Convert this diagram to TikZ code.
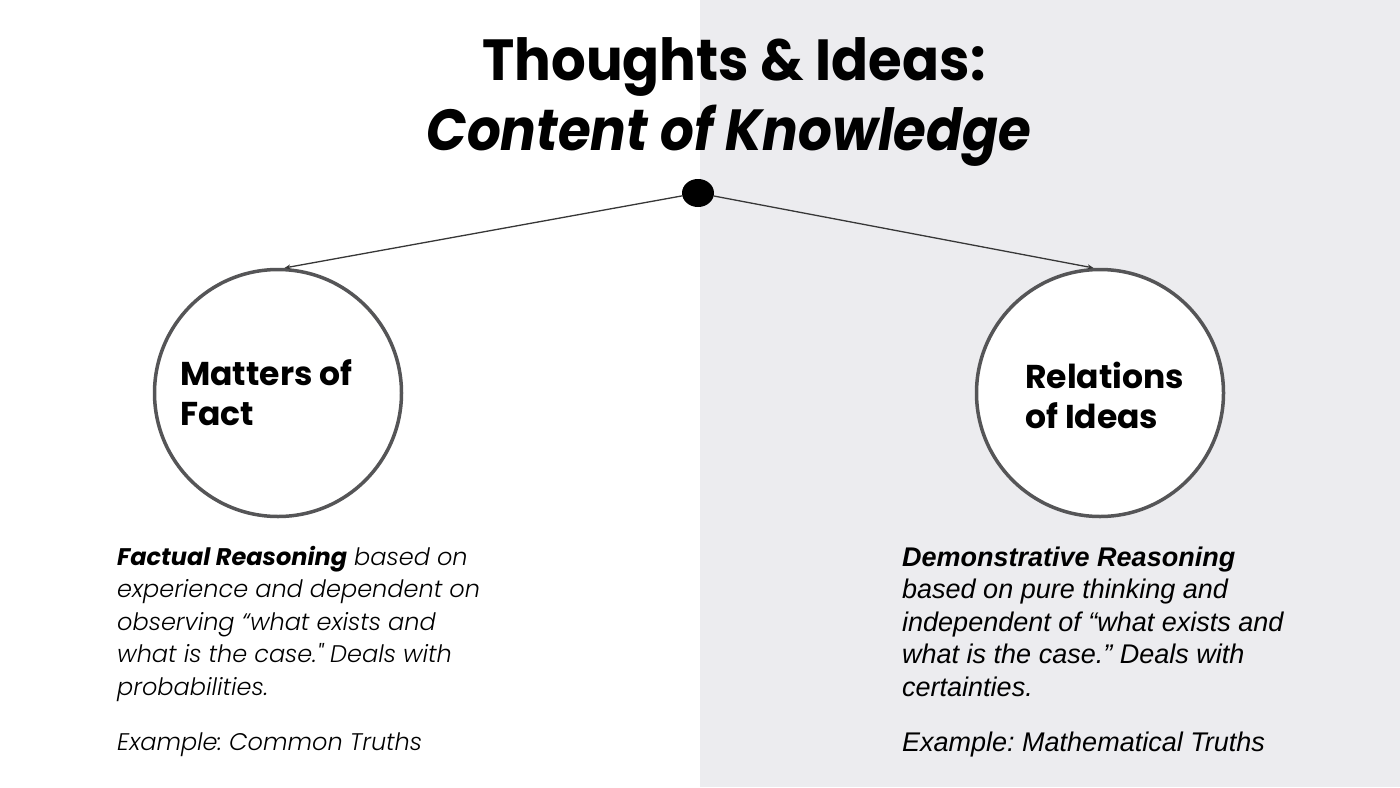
\documentclass[tikz,border=0pt]{standalone}
\usepackage{fontspec}
\usepackage{graphicx}
\setmainfont{Liberation Sans}
\newfontfamily\headfont{Poppins}
\newfontfamily\lightfont{Poppins}[UprightFont=* Light, ItalicFont=* Light Italic, BoldFont=* Bold, BoldItalicFont=* Bold Italic]
\newfontfamily\arialfont{Liberation Sans}
\usetikzlibrary{arrows.meta,shapes.geometric}
\frenchspacing
\definecolor{bgright}{RGB}{236,236,239}
\definecolor{ringgray}{RGB}{85,85,87}
\definecolor{linegray}{RGB}{55,55,55}
\tikzset{
  ring/.style={circle, draw=ringgray, line width=3.5pt, fill=white, minimum size=247pt, inner sep=0pt},
  conn/.style={draw=linegray, line width=1.3pt, -{Stealth[length=6pt,width=5pt]}},
  titletxt/.style={font={\headfont\bfseries\fontsize{58}{68}\selectfont}, anchor=base, inner sep=0pt},
  headtxt/.style={font={\headfont\bfseries\fontsize{33}{40}\selectfont}, align=left, anchor=base west, inner sep=0pt},
  bodyL/.style={font={\lightfont\itshape\fontsize{24}{32.5}\selectfont}, align=left, anchor=base west, inner sep=0pt},
  bodyR/.style={font={\arialfont\itshape\fontsize{27}{32.5}\selectfont}, align=left, anchor=base west, inner sep=0pt},
}
\begin{document}
\begin{tikzpicture}[x=1pt,y=-1pt]
\useasboundingbox (0,0) rectangle (1400,787);
\fill[white] (0,0) rectangle (700,787);
\fill[bgright] (700,0) rectangle (1400,787);
\node[titletxt] (t1) at (734,80) {\scalebox{0.94}[1]{Thoughts \& Ideas:}};
\node[titletxt] (t2) at (729,150) {\scalebox{0.915}[1]{\itshape Content of Knowledge}};
\node[ellipse, fill=black, minimum width=32pt, minimum height=28pt, inner sep=0pt] (dot) at (698,193) {};
\node[ring] (L) at (278,393) {};
\node[ring] (R) at (1100,393) {};
\draw[conn] (dot) -- (L.87);
\draw[conn] (dot) -- (R.93);
\node[headtxt] (Ltxt) at (180,425) {Matters of\\Fact};
\node[headtxt] (Rtxt) at (1025,428) {Relations\\of Ideas};
\node[bodyL] (Lbody) at (117,750) {{\bfseries Factual Reasoning} based on\\experience and dependent on\\observing “what exists and\\what is the case." Deals with\\probabilities.\\[22.5pt]Example: Common Truths};
\node[bodyR] (Rbody) at (902,751) {{\bfseries Demonstrative Reasoning}\\based on pure thinking and\\independent of “what exists and\\what is the case.” Deals with\\certainties.\\[22.5pt]Example: Mathematical Truths};
\end{tikzpicture}
\end{document}
